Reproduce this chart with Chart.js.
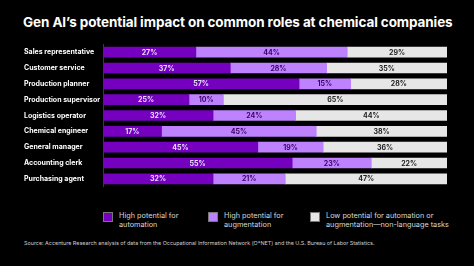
<!DOCTYPE html>
<html lang="en">
<head>
    <meta charset="UTF-8">
    <title>Gen AI impact on chemical company roles</title>
    <script src="https://cdn.jsdelivr.net/npm/chart.js"></script>
    <style>
        body { margin: 0; background: #000; font-family: Inter, sans-serif; }
        #wrap { position: relative; width: 474px; height: 266px; overflow: hidden; }
        #title { position: absolute; left: 23px; top: 14px; color: #fff; font-weight: 700; font-size: 13.5px; letter-spacing: -0.1px; white-space: nowrap; }
        #box { position: absolute; left: 0; top: 39px; width: 474px; height: 153px; }
        .leg { position: absolute; top: 211px; display: flex; color: #d8d8d8; font-size: 7.3px; line-height: 9px; }
        .leg span.sw { width: 10px; height: 10px; margin-right: 6px; margin-top: 1px; border: 1px solid #777; box-sizing: border-box; flex: none; }
        #src { position: absolute; left: 24px; top: 240px; color: #cfcfcf; font-size: 5.4px; white-space: nowrap; }
    </style>
</head>
<body>
<div id="wrap">
    <div id="title">Gen AI’s potential impact on common roles at chemical companies</div>
    <div id="box"><canvas id="c"></canvas></div>
    <div class="leg" style="left:103px"><span class="sw" style="background:#7500c0"></span><div>High potential for<br>automation</div></div>
    <div class="leg" style="left:208px"><span class="sw" style="background:#be82ff"></span><div>High potential for<br>augmentation</div></div>
    <div class="leg" style="left:310px"><span class="sw" style="background:#e6e6e6"></span><div>Low potential for automation or<br>augmentation—non-language tasks</div></div>
    <div id="src">Source: Accenture Research analysis of data from the Occupational Information Network (O*NET) and the U.S. Bureau of Labor Statistics.</div>
</div>

<script>
    const roles = ['Sales representative', 'Customer service', 'Production planner', 'Production supervisor',
        'Logistics operator', 'Chemical engineer', 'General manager', 'Accounting clerk', 'Purchasing agent'];
    const automation = [27, 37, 57, 25, 32, 17, 45, 55, 32];
    const augmentation = [44, 28, 15, 10, 24, 45, 19, 23, 21];
    const lowPotential = [29, 35, 28, 65, 44, 38, 36, 22, 47];

    const textColors = ['#e8dcff', '#3c0066', '#222'];

    // writes the % value in the middle of each segment
    const segLabels = {
        id: 'segLabels',
        afterDatasetsDraw(chart) {
            const ctx = chart.ctx;
            ctx.save();
            ctx.font = 'bold 7px Inter, sans-serif';
            ctx.textAlign = 'center';
            ctx.textBaseline = 'middle';
            chart.data.datasets.forEach((ds, i) => {
                chart.getDatasetMeta(i).data.forEach((bar, j) => {
                    const mid = (bar.x + bar.base) / 2;
                    ctx.fillStyle = textColors[i];
                    ctx.fillText(ds.data[j] + '%', mid, bar.y + 0.5);
                });
            });
            ctx.restore();
        }
    };

    new Chart(document.getElementById('c'), {
        type: 'bar',
        data: {
            labels: roles,
            datasets: [
                { label: 'High potential for automation', data: automation, backgroundColor: '#7500c0' },
                { label: 'High potential for augmentation', data: augmentation, backgroundColor: '#be82ff' },
                { label: 'Low potential', data: lowPotential, backgroundColor: '#e6e6e6' }
            ]
        },
        options: {
            indexAxis: 'y',
            responsive: true,
            maintainAspectRatio: false,
            animation: false,
            layout: { padding: { left: 24, right: 27, top: 0, bottom: 0 } },
            plugins: { legend: { display: false }, tooltip: { enabled: false } },
            datasets: { bar: { barThickness: 10 } },
            scales: {
                x: { stacked: true, min: 0, max: 100, display: false },
                y: {
                    stacked: true,
                    grid: { display: false },
                    border: { display: true, color: '#3a3a3a', width: 1 },
                    ticks: {
                        color: '#fff',
                        crossAlign: 'far',
                        padding: 1,
                        font: { family: 'Inter, sans-serif', size: 7, weight: 'bold' }
                    },
                    afterFit(scale) { scale.width = 79; }
                }
            }
        },
        plugins: [segLabels]
    });
</script>
</body>
</html>
